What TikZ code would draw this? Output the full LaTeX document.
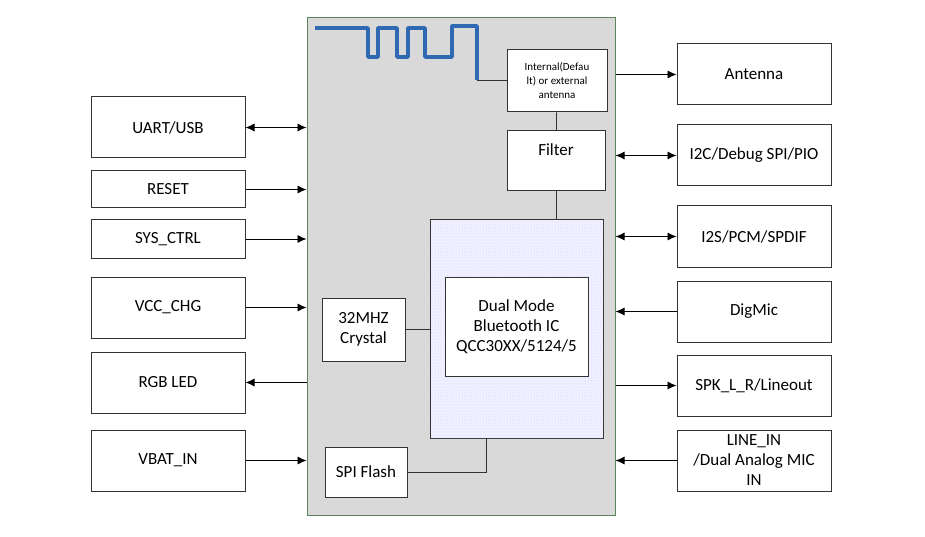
\documentclass[tikz,border=0pt]{standalone}
\usepackage{fontspec}
\setmainfont{Carlito}
\usetikzlibrary{arrows.meta,patterns}
\definecolor{antblue}{HTML}{2F69B3}
\begin{document}
\begin{tikzpicture}[x=1pt,y=-1pt,
  box/.style={draw=black!80,line width=1pt,fill=white,align=center,font=\fontsize{17}{20}\selectfont},
  arr/.style={-{Latex[length=9pt,width=8pt]},line width=0.8pt},
  darr/.style={{Latex[length=9pt,width=8pt]}-{Latex[length=9pt,width=8pt]},line width=0.8pt},
  ln/.style={line width=0.8pt,black!80}]
\useasboundingbox (0,0) rectangle (925,537);
\node[draw=black!40!green!30!gray,fill=black!15,line width=1pt,minimum width=308,minimum height=497,inner sep=0] (main) at (461,266.5) {};
\draw[line width=3.5pt,antblue,line join=round] (315,28)--(368,28)--(368,57)--(378,57)--(378,28)--(397,28)--(397,57)--(408,57)--(408,28)--(425,28)--(425,57)--(452,57)--(452,26)--(477,26)--(477,80) coordinate (af);
\node[box,minimum width=100,minimum height=62,inner sep=1,font=\fontsize{11}{14}\selectfont] (int) at (557,81) {Internal(Defau\\lt) or external\\antenna};
\draw[ln] (af)--(int.west|-af);
\node[box,minimum width=98,minimum height=60,text depth=22pt] (filt) at (556,161) {Filter};
\node[draw=black!80,line width=1pt,fill=blue!6,postaction={pattern=dots,pattern color=blue!20},minimum width=173,minimum height=218] (ic) at (516.5,329) {};
\node[box,minimum width=143,minimum height=99] (bt) at (516.5,326.5) {Dual Mode\\Bluetooth IC\\QCC30XX/5124/5};
\node[box,minimum width=83,minimum height=63] (xt) at (363.5,329.5) {32MHZ\\Crystal};
\node[box,minimum width=82,minimum height=50] (spi) at (366,472) {SPI Flash};
\draw[ln] (int)--(filt);
\draw[ln] (filt.south)--(filt.south|-ic.north);
\draw[ln] (xt.east)--(ic.west|-xt.east);
\draw[ln] (spi.east)-|(486,438);
% left
\node[box,minimum width=154,minimum height=61] (uart) at (168,127.5) {UART/USB};
\node[box,minimum width=154,minimum height=37] (rst) at (168,189.5) {RESET};
\node[box,minimum width=154,minimum height=38] (sys) at (168,239) {SYS\_CTRL};
\node[box,minimum width=154,minimum height=61] (vcc) at (168,307.5) {VCC\_CHG};
\node[box,minimum width=154,minimum height=61] (rgb) at (168,382.5) {RGB LED};
\node[box,minimum width=154,minimum height=61] (vbat) at (168,460.5) {VBAT\_IN};
\draw[darr] (uart.east)--(main.west|-uart.east);
\draw[arr] (rst.east)--(main.west|-rst.east);
\draw[arr] (sys.east)--(main.west|-sys.east);
\draw[arr] (vcc.east)--(main.west|-vcc.east);
\draw[arr] (main.west|-rgb.east)--(rgb.east);
\draw[arr] (vbat.east)--(main.west|-vbat.east);
% right
\node[box,minimum width=154,minimum height=61] (ant) at (754,74.5) {Antenna};
\node[box,minimum width=154,minimum height=61] (i2c) at (754,155.5) {I2C/Debug SPI/PIO};
\node[box,minimum width=154,minimum height=61] (i2s) at (754,236.5) {I2S/PCM/SPDIF};
\node[box,minimum width=154,minimum height=61] (dig) at (754,311.5) {DigMic};
\node[box,minimum width=154,minimum height=61] (spk) at (754,385.5) {SPK\_L\_R/Lineout};
\node[box,minimum width=154,minimum height=61,inner sep=1] (lin) at (754,460.5) {LINE\_IN\\/Dual Analog MIC\\IN};
\draw[arr] (main.east|-ant.west)--(ant.west);
\draw[darr] (main.east|-i2c.west)--(i2c.west);
\draw[darr] (main.east|-i2s.west)--(i2s.west);
\draw[arr] (dig.west)--(main.east|-dig.west);
\draw[arr] (main.east|-spk.west)--(spk.west);
\draw[arr] (lin.west)--(main.east|-lin.west);
\end{tikzpicture}
\end{document}
